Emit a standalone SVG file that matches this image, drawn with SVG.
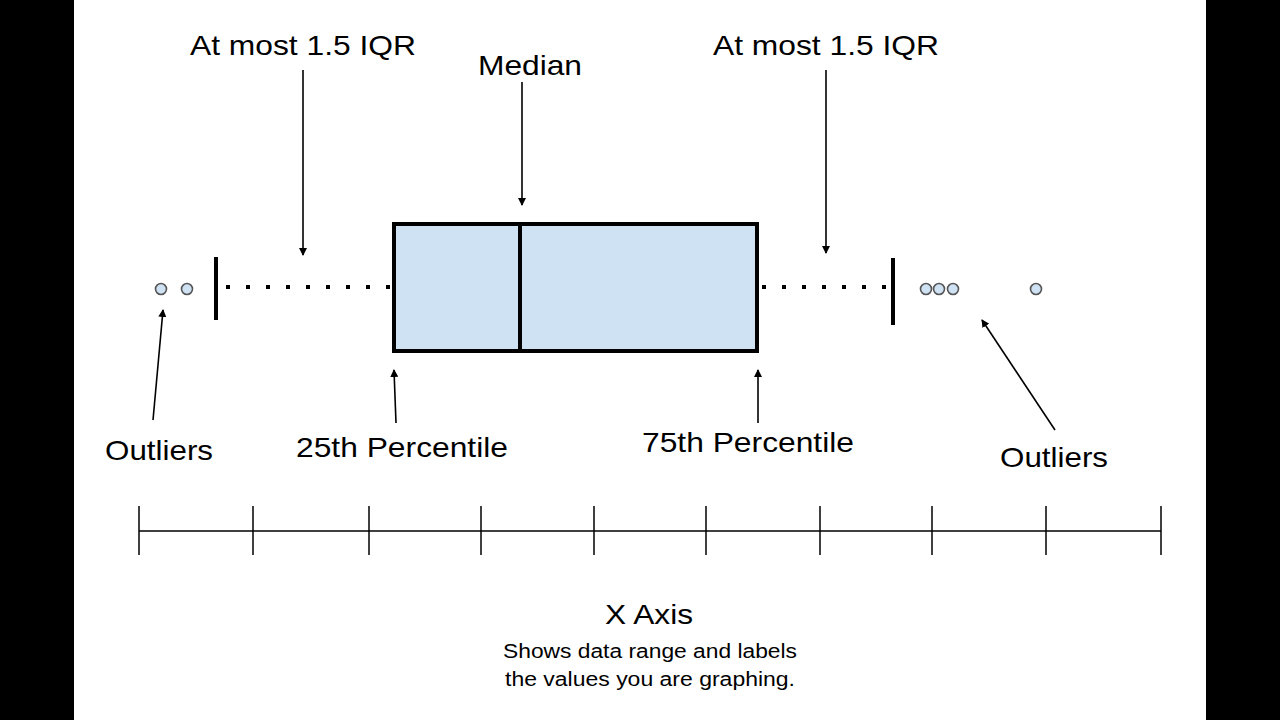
<svg xmlns="http://www.w3.org/2000/svg" width="1280" height="720" viewBox="0 0 1280 720">
<defs>
<style>
text{font-family:"Liberation Sans",Arial,sans-serif;fill:#000;text-anchor:middle}
.l{font-size:28px}
.s{font-size:20px}
.a{stroke:#000;stroke-width:1.6;fill:none;marker-end:url(#ah)}
.o{fill:#cfe2f3;stroke:#555;stroke-width:1.6}
.t{stroke:#000;stroke-width:1.5}
</style>
<marker id="ah" markerWidth="8" markerHeight="8" refX="7" refY="4" orient="auto" markerUnits="userSpaceOnUse"><path d="M0,0L8,4L0,8z" fill="#000"/></marker>
</defs>
<rect x="0" y="0" width="1280" height="720" fill="#fff"/>
<rect x="0" y="0" width="74" height="720" fill="#000"/>
<rect x="1206" y="0" width="74" height="720" fill="#000"/>
<g id="box"><rect x="394" y="224" width="363" height="127" fill="#cfe2f3" stroke="#000" stroke-width="4"/><line x1="520" y1="224" x2="520" y2="351" stroke="#000" stroke-width="4"/></g>
<g id="whiskers">
<line x1="226" y1="287" x2="392" y2="287" stroke="#000" stroke-width="4" stroke-dasharray="4 16"/>
<line x1="762" y1="287" x2="888" y2="287" stroke="#000" stroke-width="4" stroke-dasharray="4 16"/>
<line x1="216" y1="257" x2="216" y2="320" stroke="#000" stroke-width="4"/>
<line x1="893" y1="258" x2="893" y2="325" stroke="#000" stroke-width="4"/>
</g>
<g id="outliers">
<circle class="o" cx="161" cy="289" r="5.5"/><circle class="o" cx="187" cy="289" r="5.5"/>
<circle class="o" cx="926" cy="289" r="5.5"/><circle class="o" cx="939" cy="289" r="5.5"/><circle class="o" cx="953" cy="289" r="5.5"/>
<circle class="o" cx="1036" cy="289" r="5.5"/>
</g>
<g id="connectors">
<line class="a" x1="303" y1="70" x2="303" y2="255"/>
<line class="a" x1="522" y1="82" x2="522" y2="205"/>
<line class="a" x1="826" y1="70" x2="826" y2="253"/>
<line class="a" x1="396" y1="423" x2="394" y2="370"/>
<line class="a" x1="758" y1="423" x2="758" y2="370"/>
<line class="a" x1="153" y1="420" x2="163" y2="310"/>
<line class="a" x1="1055" y1="430" x2="982" y2="320"/>
</g>
<g id="axis">
<line class="t" x1="139" y1="531" x2="1161" y2="531"/>
<line class="t" x1="139" y1="506" x2="139" y2="555"/><line class="t" x1="253" y1="506" x2="253" y2="555"/><line class="t" x1="369" y1="506" x2="369" y2="555"/><line class="t" x1="481" y1="506" x2="481" y2="555"/><line class="t" x1="594" y1="506" x2="594" y2="555"/><line class="t" x1="706" y1="506" x2="706" y2="555"/><line class="t" x1="820" y1="506" x2="820" y2="555"/><line class="t" x1="932" y1="506" x2="932" y2="555"/><line class="t" x1="1046" y1="506" x2="1046" y2="555"/><line class="t" x1="1161" y1="506" x2="1161" y2="555"/>
</g>
<g id="labels">
<text class="l" x="303" y="55" textLength="226" lengthAdjust="spacingAndGlyphs">At most 1.5 IQR</text>
<text class="l" x="530" y="75" textLength="104" lengthAdjust="spacingAndGlyphs">Median</text>
<text class="l" x="826" y="55" textLength="226" lengthAdjust="spacingAndGlyphs">At most 1.5 IQR</text>
<text class="l" x="159" y="460" textLength="108" lengthAdjust="spacingAndGlyphs">Outliers</text>
<text class="l" x="402" y="457" textLength="212" lengthAdjust="spacingAndGlyphs">25th Percentile</text>
<text class="l" x="748" y="452" textLength="212" lengthAdjust="spacingAndGlyphs">75th Percentile</text>
<text class="l" x="1054" y="467" textLength="108" lengthAdjust="spacingAndGlyphs">Outliers</text>
<text class="l" x="649" y="624" textLength="88" lengthAdjust="spacingAndGlyphs">X Axis</text>
<text class="s" x="650" y="658" textLength="294" lengthAdjust="spacingAndGlyphs">Shows data range and labels</text>
<text class="s" x="650" y="686" textLength="290" lengthAdjust="spacingAndGlyphs">the values you are graphing.</text>
</g>
</svg>
